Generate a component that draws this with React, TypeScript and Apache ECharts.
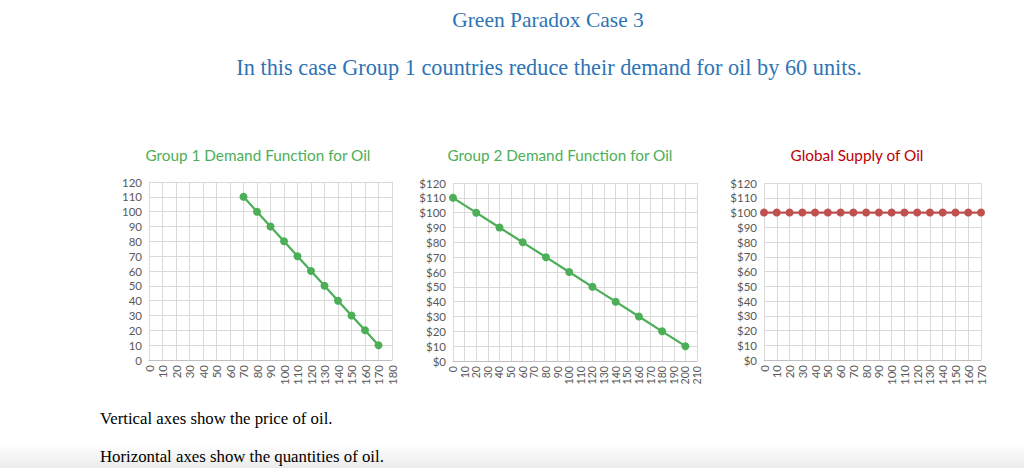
import React, { useEffect, useRef } from "react";
import * as echarts from "echarts";

const g1Quantity = [70, 80, 90, 100, 110, 120, 130, 140, 150, 160, 170];
const g1Price = [110, 100, 90, 80, 70, 60, 50, 40, 30, 20, 10];
const g2Quantity = [0, 20, 40, 60, 80, 100, 120, 140, 160, 180, 200];
const g2Price = [110, 100, 90, 80, 70, 60, 50, 40, 30, 20, 10];
const supplyQuantity = [0, 10, 20, 30, 40, 50, 60, 70, 80, 90, 100, 110, 120, 130, 140, 150, 160, 170];
const supplyPrice = [100, 100, 100, 100, 100, 100, 100, 100, 100, 100, 100, 100, 100, 100, 100, 100, 100, 100];
const xMax = [180, 210, 170];
const chartTitles = ["Group 1 Demand Function for Oil", "Group 2 Demand Function for Oil", "Global Supply of Oil"];

const GREEN = "#4caf58";
const RED = "#c0504d";
const LABEL_FONT = "Lato, 'Open Sans', sans-serif";
const SERIF = "'Liberation Serif', 'Times New Roman', serif";

export default function App() {
  const ref = useRef<HTMLDivElement>(null);
  useEffect(() => {
    if (!ref.current) return;
    const chart = echarts.init(ref.current, undefined, { renderer: "svg" });
    const grids = [
      { left: 149, top: 182, width: 243, height: 178 },
      { left: 453, top: 183, width: 244, height: 178 },
      { left: 764, top: 183, width: 217, height: 177 },
    ];
    const xFont = [11.5, 10.6, 11.5];
    const xAxes = xMax.map((mx, i) => ({
      type: "value",
      gridIndex: i,
      min: 0,
      max: mx,
      interval: 10,
      axisLine: { show: true, onZero: false, lineStyle: { color: "#bfbfbf", width: 1 } },
      axisTick: { show: false },
      splitLine: { show: true, lineStyle: { color: "#d9d9d9", width: 1 } },
      axisLabel: {
        rotate: 90,
        color: "#595959",
        fontSize: xFont[i],
        fontFamily: LABEL_FONT,
        margin: 5,
        showMinLabel: true,
        showMaxLabel: true,
        hideOverlap: false,
      },
    }));
    const yAxes = [0, 1, 2].map((i) => ({
      type: "value",
      gridIndex: i,
      min: 0,
      max: 120,
      interval: 10,
      axisLine: { show: false },
      axisTick: { show: false },
      splitLine: { show: true, lineStyle: { color: "#d9d9d9", width: 1 } },
      axisLabel: {
        color: "#595959",
        fontSize: 11.5,
        fontFamily: LABEL_FONT,
        margin: 7,
        formatter: i === 0 ? "{value}" : "${value}",
      },
    }));
    const mkSeries = (q: number[], p: number[], idx: number, color: string) => ({
      type: "line",
      xAxisIndex: idx,
      yAxisIndex: idx,
      data: q.map((v, k) => [v, p[k]]),
      symbol: "circle",
      symbolSize: 8,
      lineStyle: { color, width: 2.25 },
      itemStyle: { color },
      silent: true,
    });
    const titleCenters = [258, 560, 857];
    const titleColors = [GREEN, GREEN, "#c00000"];
    chart.setOption({
      animation: false,
      grid: grids,
      xAxis: xAxes,
      yAxis: yAxes,
      series: [
        mkSeries(g1Quantity, g1Price, 0, GREEN),
        mkSeries(g2Quantity, g2Price, 1, GREEN),
        mkSeries(supplyQuantity, supplyPrice, 2, RED),
      ],
      graphic: [
        {
          type: "rect",
          shape: { x: 0, y: 444, width: 1024, height: 24 },
          style: {
            fill: new echarts.graphic.LinearGradient(0, 0, 0, 1, [
              { offset: 0, color: "#ffffff" },
              { offset: 1, color: "#ebebeb" },
            ]),
          },
          z: -10,
        },
        {
          type: "text",
          x: 548,
          y: 20,
          style: {
            text: "Green Paradox Case 3",
            fill: "#2e74b5",
            font: "21.5px " + SERIF,
            align: "center",
            verticalAlign: "middle",
          },
        },
        {
          type: "text",
          x: 549,
          y: 67,
          style: {
            text: "In this case Group 1 countries reduce their demand for oil by 60 units.",
            fill: "#2e74b5",
            font: "22.3px " + SERIF,
            align: "center",
            verticalAlign: "middle",
          },
        },
        ...chartTitles.map((t, i) => ({
          type: "text",
          x: titleCenters[i],
          y: 155,
          style: {
            text: t,
            fill: titleColors[i],
            font: "15.3px " + LABEL_FONT,
            align: "center",
            verticalAlign: "middle",
          },
        })),
        {
          type: "text",
          x: 100,
          y: 418,
          style: {
            text: "Vertical axes show the price of oil.",
            fill: "#000000",
            font: "16.8px " + SERIF,
            align: "left",
            verticalAlign: "middle",
          },
        },
        {
          type: "text",
          x: 100,
          y: 456,
          style: {
            text: "Horizontal axes show the quantities of oil.",
            fill: "#000000",
            font: "16.8px " + SERIF,
            align: "left",
            verticalAlign: "middle",
          },
        },
      ],
    });
    return () => chart.dispose();
  }, []);
  return (
    <div
      ref={ref}
      style={{ position: "fixed", left: 0, top: 0, width: 1024, height: 468, background: "#ffffff" }}
    />
  );
}
